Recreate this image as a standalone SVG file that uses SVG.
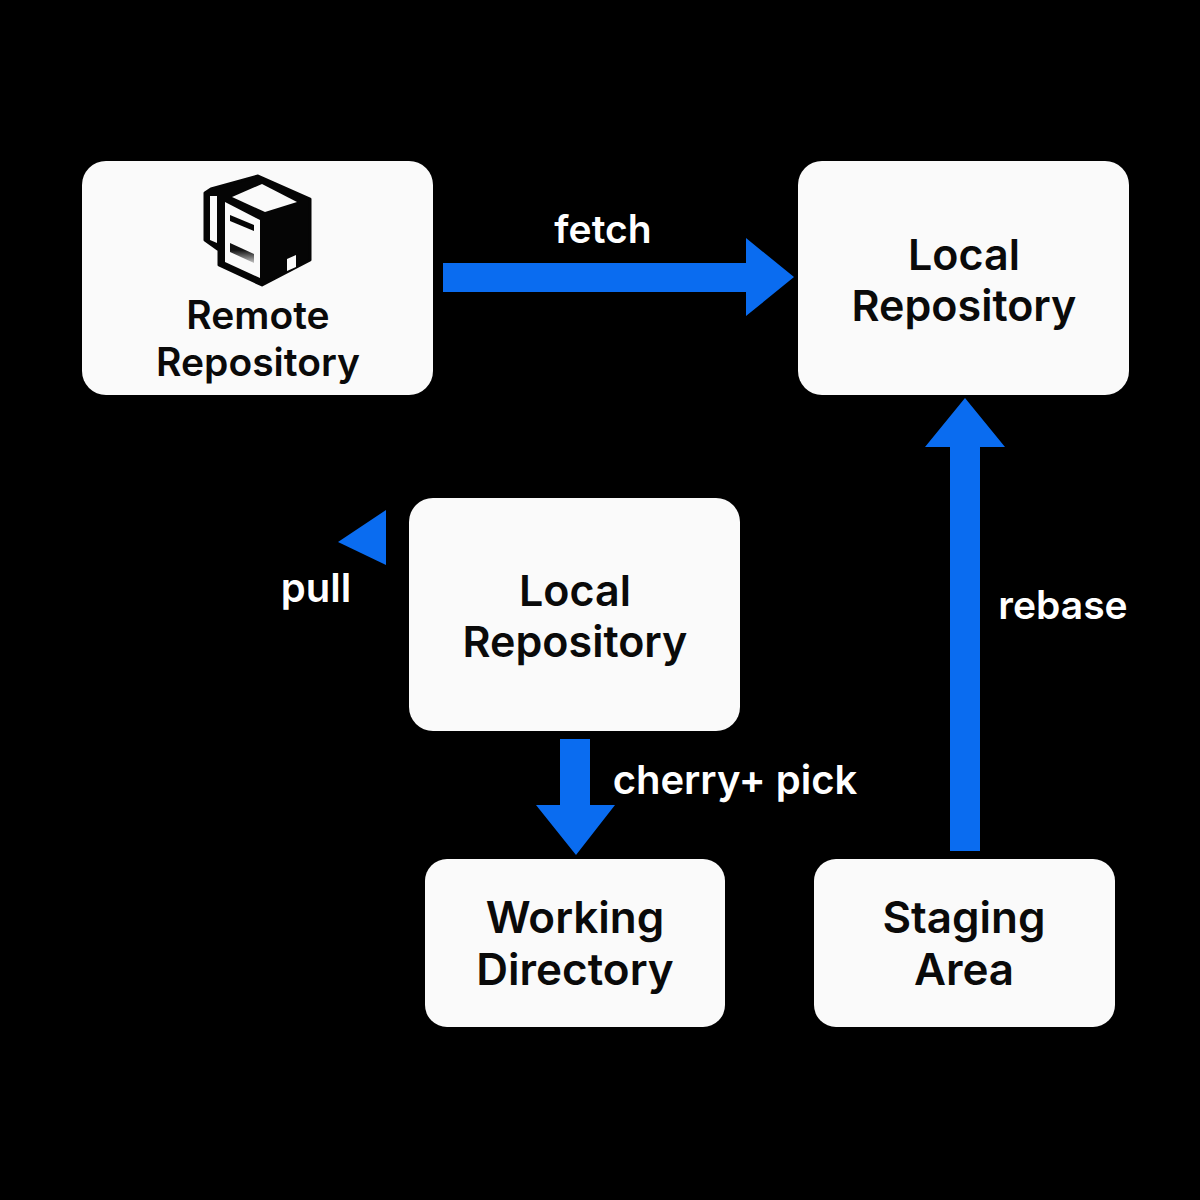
<svg xmlns="http://www.w3.org/2000/svg" width="1200" height="1200" viewBox="0 0 1200 1200">
<defs>
<linearGradient id="greyBar" x1="0" y1="0" x2="0" y2="1"><stop offset="0.35" stop-color="#111"/><stop offset="1" stop-color="#c4c4c4"/></linearGradient>
</defs>
<style>
.node{fill:#fafafa}
.label{font-family:Inter,"Liberation Sans",sans-serif;font-weight:600;font-size:43px;fill:#0a0a0a;text-anchor:middle}
.small{font-size:39px}
.wide{font-size:44px}
.edge{font-family:Inter,"Liberation Sans",sans-serif;font-weight:600;font-size:39px;fill:#fff;text-anchor:middle}
.edge-wide{font-size:40px}
.arrow{fill:#0a6cf0}
.ink{fill:#050505}
.paper{fill:#fafafa}
</style>
<rect width="1200" height="1200" fill="#000"/>
<g id="connectors">
<polygon class="arrow" points="443,263 746,263 746,238 794,277 746,316 746,292 443,292"/>
<polygon class="arrow" points="950,851 950,447 925,447 965,398 1005,447 980,447 980,851"/>
<polygon class="arrow" points="338,542 386,510 386,565"/>
<polygon class="arrow" points="560,739 590,739 590,805 615,805 576,855 536,805 560,805"/>
<text class="edge" x="603" y="243">fetch</text>
<text class="edge edge-wide" x="316" y="602">pull</text>
<text class="edge edge-wide" x="735" y="794">cherry+ pick</text>
<text class="edge" x="1063" y="619">rebase</text>
</g>
<g id="remote-repository">
<rect class="node" x="82" y="161" width="351" height="234" rx="24"/>
<g id="icon">
<path class="ink" stroke="#050505" stroke-width="3" stroke-linejoin="round" d="M258,176 L310,199 V260 L262,285 L219,265 V250 L205,240 V193 L211,189 Z"/>
<polygon class="paper" points="210,196 217,196 217,243 210,240"/>
<polygon class="paper" points="232,197 262,184 297,202 265,212"/>
<polygon class="paper" points="225,202 260,220 260,278 225,262"/>
<polygon class="ink" points="230,215 254,225 254,231 230,221"/>
<polygon fill="url(#greyBar)" points="230,243 254,254 254,263 230,252"/>
<polygon class="paper" points="287,259 296,255 296,267 287,271"/>
</g>
<text class="label small" x="258" y="329">Remote</text>
<text class="label small" x="258" y="376">Repository</text>
</g>
<g id="local-repository-top">
<rect class="node" x="798" y="161" width="331" height="234" rx="24"/>
<text class="label" x="964" y="270">Local</text>
<text class="label" x="964" y="321">Repository</text>
</g>
<g id="local-repository-middle">
<rect class="node" x="409" y="498" width="331" height="233" rx="24"/>
<text class="label" x="575" y="606">Local</text>
<text class="label" x="575" y="657">Repository</text>
</g>
<g id="working-directory">
<rect class="node" x="425" y="859" width="300" height="168" rx="22"/>
<text class="label wide" x="575" y="933">Working</text>
<text class="label wide" x="575" y="985">Directory</text>
</g>
<g id="staging-area">
<rect class="node" x="814" y="859" width="301" height="168" rx="22"/>
<text class="label wide" x="964" y="933">Staging</text>
<text class="label wide" x="964" y="985">Area</text>
</g>
</svg>
